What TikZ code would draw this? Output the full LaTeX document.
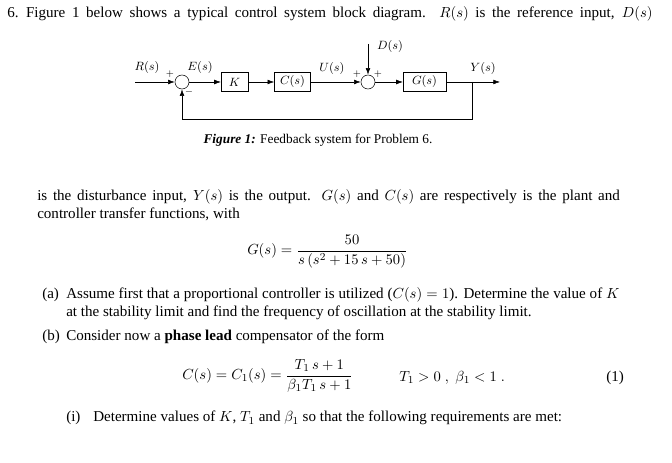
\documentclass[tikz,border=0pt]{standalone}
\usepackage{fontspec}
\setmainfont{Liberation Serif}
\usepackage{amsmath}
\usetikzlibrary{arrows.meta}
\begin{document}
\begin{tikzpicture}[x=0.75pt,y=-0.75pt,
  blk/.style={draw,minimum height=14pt,inner sep=2pt,font=\small},
  sumc/.style={draw,circle,minimum size=10.5pt,inner sep=0pt},
  sig/.style={-{Latex[length=5pt,width=3.5pt]}},
  lbl/.style={font=\small},
  txt/.style={anchor=base west,inner sep=0pt,font=\fontsize{11.3}{13}\selectfont}]
\useasboundingbox (0,0) rectangle (672,463);
% diagram
\coordinate (in) at (135,82);
\node[sumc] (s1) at (182,82) {};
\node[blk,minimum width=20pt] (K) at (234.5,82) {$K$};
\node[blk,minimum width=27pt] (C) at (292.5,82) {$C(s)$};
\node[sumc] (s2) at (368,82) {};
\node[blk,minimum width=32pt] (G) at (424.5,82) {$G(s)$};
\coordinate (out) at (500,82);
\coordinate (tap) at (472,82);
\coordinate (dtop) at (368,44);
\coordinate (fb1) at (472,119);
\coordinate (fb2) at (182,119);
\draw[sig] (in) -- (s1);
\draw[sig] (s1) -- (K);
\draw[sig] (K) -- (C);
\draw[sig] (C) -- (s2);
\draw[sig] (s2) -- (G);
\draw[sig] (G) -- (out);
\draw[sig] (dtop) -- (s2);
\draw[sig] (tap) -- (fb1) -- (fb2) -- (s1);
\node[lbl] (lr) at (147,68) {$R(s)$};
\node[lbl] (le) at (200,68) {$E(s)$};
\node[lbl] (lu) at (332,69) {$U(s)$};
\node[lbl] (ld) at (390,47) {$D(s)$};
\node[lbl] (ly) at (483,69) {$Y(s)$};
\node[font=\scriptsize] (p1) at (170,74) {$+$};
\node[font=\scriptsize] (m1) at (189,92) {$-$};
\node[font=\scriptsize] (p2) at (357,74) {$+$};
\node[font=\scriptsize] (p3) at (378,74) {$+$};
\node[font=\fontsize{10}{12}\selectfont] (cap) at (318,140) {\textbf{\textit{Figure 1:}} Feedback system for Problem 6.};
% text
\node[txt] (t1) at (7,18) {\parbox{484pt}{\parfillskip=0pt 6.\enspace Figure 1 below shows a typical control system block diagram. $R(s)$ is the reference input, $D(s)$\par}};
\node[txt] (t2) at (37,201) {\parbox{437pt}{\parfillskip=0pt is the disturbance input, $Y(s)$ is the output. $G(s)$ and $C(s)$ are respectively is the plant and\par}};
\node[txt] (t3) at (37,219) {controller transfer functions, with};
\node[txt,anchor=west] (eq1) at (247,252) {$G(s)=\dfrac{50}{s\,(s^2+15\,s+50)}$};
\node[txt] (a) at (42,299) {(a)};
\node[txt] (t4) at (66,299) {\parbox{415pt}{\parfillskip=0pt Assume first that a proportional controller is utilized ($C(s)=1$). Determine the value of $K$\par}};
\node[txt] (t5) at (66,317) {at the stability limit and find the frequency of oscillation at the stability limit.};
\node[txt] (b) at (42,341) {(b)};
\node[txt] (t6) at (66,341) {Consider now a \textbf{phase lead} compensator of the form};
\node[txt,anchor=west] (eq2) at (182,376) {$C(s)=C_1(s)=\dfrac{T_1\,s+1}{\beta_1 T_1\,s+1}$};
\node[txt,anchor=west] (eq3) at (399,378) {$T_1>0\;,\;\beta_1<1\;.$};
\node[txt,anchor=west] (eqn) at (606,378) {(1)};
\node[txt] (i) at (66,422) {(i)};
\node[txt] (t7) at (93,422) {Determine values of $K$, $T_1$ and $\beta_1$ so that the following requirements are met:};
\end{tikzpicture}
\end{document}
